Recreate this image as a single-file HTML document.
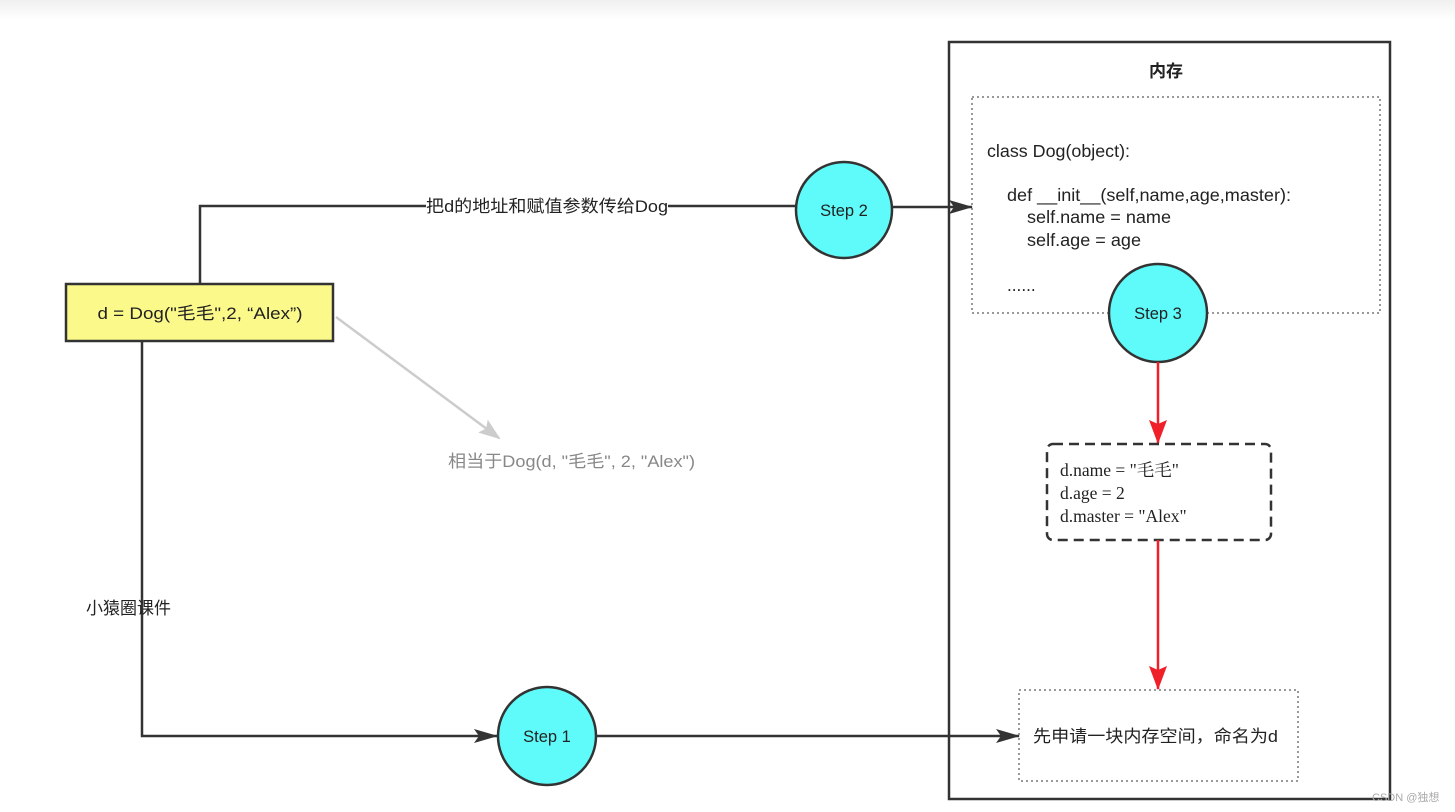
<!DOCTYPE html>
<html><head><meta charset="utf-8"><style>
html,body{margin:0;padding:0;background:#fff;}
svg{display:block;}
</style></head><body>
<svg width="1455" height="812" viewBox="0 0 1455 812" xmlns="http://www.w3.org/2000/svg" font-family="'Liberation Sans','Noto Sans CJK SC',sans-serif">
<defs>
<linearGradient id="tg" x1="0" y1="0" x2="0" y2="1"><stop offset="0" stop-color="#f0f0f0"/><stop offset="1" stop-color="#ffffff"/></linearGradient>
<marker id="ab" markerWidth="24" markerHeight="14" refX="23" refY="7" orient="auto" markerUnits="userSpaceOnUse"><path d="M0,0 L24,7 L0,14 L5,7 z" fill="#333"/></marker>
<marker id="ar" markerWidth="24" markerHeight="18" refX="23" refY="9" orient="auto" markerUnits="userSpaceOnUse"><path d="M0,0 L24,9 L0,18 L4,9 z" fill="#f0202a"/></marker>
<marker id="ag" markerWidth="22" markerHeight="16" refX="20" refY="8" orient="auto" markerUnits="userSpaceOnUse"><path d="M0,0 L22,8 L0,16 L4,8 z" fill="#ccc"/></marker>
</defs>
<rect x="0" y="0" width="1455" height="20" fill="url(#tg)"/>

<rect x="949" y="42" width="441" height="757" fill="none" stroke="#333" stroke-width="2.5"/>
<text x="1166" y="77" font-size="17" font-weight="bold" text-anchor="middle" fill="#222">内存</text>

<rect x="972" y="97" width="408" height="216" fill="none" stroke="#999" stroke-width="2" stroke-dasharray="2,3"/>
<g font-size="17.2" fill="#222">
<text x="987" y="157" textLength="143" lengthAdjust="spacingAndGlyphs">class Dog(object):</text>
<text x="1007" y="201" textLength="284" lengthAdjust="spacingAndGlyphs">def __init__(self,name,age,master):</text>
<text x="1027" y="223" textLength="144" lengthAdjust="spacingAndGlyphs">self.name = name</text>
<text x="1027" y="246" textLength="114" lengthAdjust="spacingAndGlyphs">self.age = age</text>
<text x="1007" y="291">......</text>
</g>

<polyline points="200,284 200,206 796,206" fill="none" stroke="#333" stroke-width="2.5"/>
<rect x="426" y="194" width="242" height="24" fill="#fff"/>
<text x="547" y="212" font-size="17" text-anchor="middle" fill="#222" textLength="242" lengthAdjust="spacingAndGlyphs">把d的地址和赋值参数传给Dog</text>
<line x1="893" y1="207" x2="972" y2="207" stroke="#333" stroke-width="2.5" marker-end="url(#ab)"/>
<circle cx="844" cy="210" r="48" fill="#5ffbfb" stroke="#333" stroke-width="2.5"/>
<text x="844" y="216" font-size="16.5" text-anchor="middle" fill="#222">Step 2</text>

<rect x="66" y="284" width="267" height="57" fill="#fbf98a" stroke="#333" stroke-width="2.5"/>
<text x="200" y="319" font-size="17" text-anchor="middle" fill="#222" textLength="205" lengthAdjust="spacingAndGlyphs">d = Dog("毛毛",2, “Alex”)</text>

<line x1="336" y1="317" x2="499" y2="438" stroke="#ccc" stroke-width="2.5" marker-end="url(#ag)"/>
<text x="448" y="467" font-size="17" fill="#888" textLength="247" lengthAdjust="spacingAndGlyphs">相当于Dog(d, "毛毛", 2, "Alex")</text>

<polyline points="142,341 142,736 497,736" fill="none" stroke="#333" stroke-width="2.5" marker-end="url(#ab)"/>
<text x="86" y="614" font-size="17" fill="#222">小猿圈课件</text>
<circle cx="547" cy="736" r="49" fill="#5ffbfb" stroke="#333" stroke-width="2.5"/>
<text x="547" y="742" font-size="16.5" text-anchor="middle" fill="#222">Step 1</text>
<line x1="596" y1="736" x2="1019" y2="736" stroke="#333" stroke-width="2.5" marker-end="url(#ab)"/>

<circle cx="1158" cy="313" r="49" fill="#5ffbfb" stroke="#333" stroke-width="2.5"/>
<text x="1158" y="319" font-size="16.5" text-anchor="middle" fill="#222">Step 3</text>
<line x1="1158" y1="362" x2="1158" y2="443" stroke="#f0202a" stroke-width="2.5" marker-end="url(#ar)"/>

<rect x="1047" y="444" width="224" height="96" rx="6" fill="#fff" stroke="#333" stroke-width="2.5" stroke-dasharray="10,6"/>
<g font-family="'Liberation Serif','Noto Serif CJK SC',serif" font-size="17.5" fill="#222">
<text x="1060" y="476">d.name = "毛毛"</text>
<text x="1060" y="499">d.age = 2</text>
<text x="1060" y="522">d.master = "Alex"</text>
</g>
<line x1="1158" y1="540" x2="1158" y2="689" stroke="#f0202a" stroke-width="2.5" marker-end="url(#ar)"/>

<rect x="1019" y="690" width="279" height="91" fill="none" stroke="#999" stroke-width="2" stroke-dasharray="2,3"/>
<text x="1033" y="742" font-size="17" fill="#222" textLength="245" lengthAdjust="spacingAndGlyphs">先申请一块内存空间，命名为d</text>

<text x="1372" y="801" font-size="11" fill="#aaa">CSDN @独想</text>
</svg>
</body></html>
